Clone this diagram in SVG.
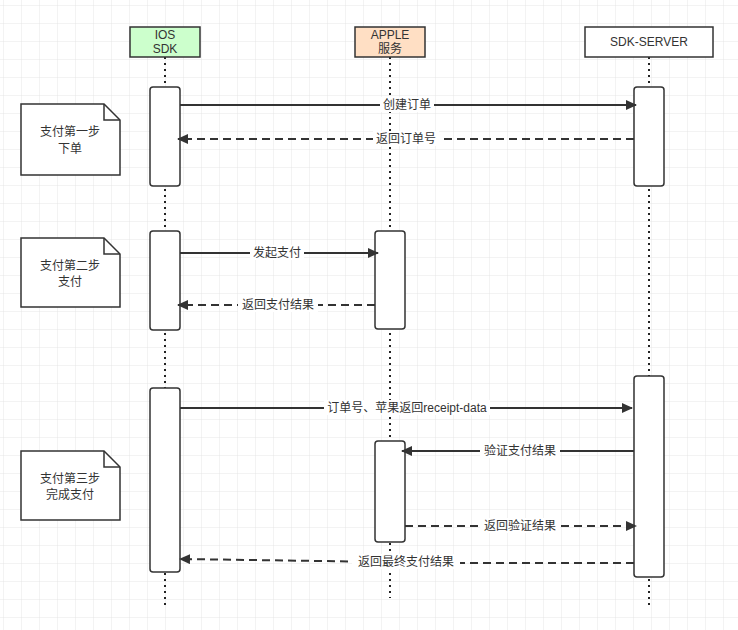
<svg xmlns="http://www.w3.org/2000/svg" width="738" height="630" viewBox="0 0 738 630">
<defs>
<pattern id="g" width="18" height="18" patternUnits="userSpaceOnUse" x="4" y="6"><path d="M18 0V18H0" fill="none" stroke="#e6e6e6" stroke-width="1"/></pattern>
<marker id="a" markerWidth="12" markerHeight="10" refX="10" refY="5" orient="auto" markerUnits="userSpaceOnUse"><path d="M0 0L11 5L0 10z" fill="#333"/></marker>
<style>
text{font-family:"Liberation Sans","Noto Sans CJK SC",sans-serif;font-size:12px;fill:#333;text-anchor:middle}
.life{stroke:#222;stroke-width:2;stroke-dasharray:2 4}
.act{fill:#fff;stroke:#333;stroke-width:1.5}
.m{stroke:#333;stroke-width:2;fill:none;marker-end:url(#a)}
.d{stroke-dasharray:8 5}
.lb{fill:#fff}
.note{fill:#fff;stroke:#333;stroke-width:1.5}
</style>
</defs>
<rect width="738" height="630" fill="#fff"/>
<rect width="738" height="630" fill="url(#g)"/>
<g id="lifelines">
<line class="life" x1="165" y1="57" x2="165" y2="608"/>
<line class="life" x1="390" y1="57" x2="390" y2="598"/>
<line class="life" x1="649" y1="57" x2="649" y2="608"/>
</g>
<g id="ios"><rect x="130" y="27" width="70" height="30" fill="#ccffcc" stroke="#333" stroke-width="1.5"/><text x="165" y="39">IOS</text><text x="165" y="53">SDK</text></g>
<g id="apple"><rect x="355" y="27" width="70" height="30" fill="#ffdfc4" stroke="#333" stroke-width="1.5"/><text x="390" y="39">APPLE</text><text x="390" y="53">服务</text></g>
<g id="server"><rect x="585" y="27" width="128" height="30" fill="#fff" stroke="#333" stroke-width="1.5"/><text x="649" y="46">SDK-SERVER</text></g>
<g id="activations">
<rect class="act" x="150" y="87" width="30" height="99" rx="3"/>
<rect class="act" x="150" y="231" width="30" height="99" rx="3"/>
<rect class="act" x="150" y="388" width="30" height="184" rx="3"/>
<rect class="act" x="634" y="87" width="30" height="99" rx="3"/>
<rect class="act" x="634" y="376" width="30" height="201" rx="3"/>
<rect class="act" x="375" y="231" width="30" height="98" rx="3"/>
<rect class="act" x="375" y="441" width="30" height="101" rx="3"/>
</g>
<g id="note1"><path class="note" d="M21 104H104L120 120V175H21Z"/><path d="M104 104V120H120" fill="none" stroke="#333" stroke-width="1.5"/><text x="70" y="136">支付第一步</text><text x="70" y="153">下单</text></g>
<g id="note2"><path class="note" d="M21 238H104L120 254V307H21Z"/><path d="M104 238V254H120" fill="none" stroke="#333" stroke-width="1.5"/><text x="70" y="270">支付第二步</text><text x="70" y="286">支付</text></g>
<g id="note3"><path class="note" d="M21 451H104L120 467V520H21Z"/><path d="M104 451V467H120" fill="none" stroke="#333" stroke-width="1.5"/><text x="70" y="483">支付第三步</text><text x="70" y="499">完成支付</text></g>
<g id="connectors">
<line class="m" x1="180" y1="105" x2="636" y2="105"/>
<line class="m d" x1="634" y1="139" x2="178" y2="139"/>
<line class="m" x1="180" y1="253" x2="378" y2="253"/>
<line class="m d" x1="375" y1="305" x2="178" y2="305"/>
<line class="m" x1="180" y1="408" x2="632" y2="408"/>
<line class="m" x1="634" y1="451" x2="402" y2="451"/>
<line class="m d" x1="405" y1="526" x2="636" y2="526"/>
<path class="m d" d="M634 563H460L180 559"/>
<rect class="lb" x="380" y="97" width="54" height="15"/><text x="407" y="109">创建订单</text>
<rect class="lb" x="373" y="131" width="66" height="15"/><text x="406" y="143">返回订单号</text>
<rect class="lb" x="250" y="245" width="54" height="15"/><text x="277" y="257">发起支付</text>
<rect class="lb" x="238" y="297" width="80" height="15"/><text x="278" y="309">返回支付结果</text>
<rect class="lb" x="324" y="400" width="166" height="15"/><text x="407" y="412">订单号、苹果返回receipt-data</text>
<rect class="lb" x="480" y="443" width="80" height="15"/><text x="520" y="455">验证支付结果</text>
<rect class="lb" x="480" y="518" width="80" height="15"/><text x="520" y="530">返回验证结果</text>
<rect class="lb" x="352" y="554" width="108" height="15"/><text x="406" y="566">返回最终支付结果</text>
</g>
</svg>
